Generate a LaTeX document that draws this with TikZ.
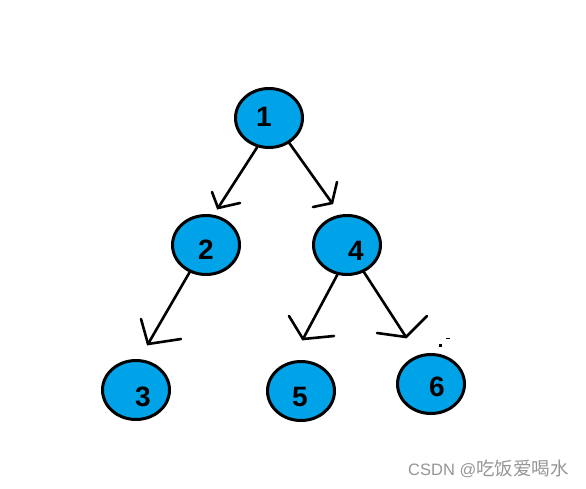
\documentclass[tikz,border=0pt]{standalone}
\usepackage{fontspec}
\setmainfont{Liberation Sans}
\newfontfamily\cjkfont{Noto Sans CJK SC}
\usetikzlibrary{shapes.geometric}
\definecolor{nodeblue}{RGB}{0,162,232}
\definecolor{wmgray}{RGB}{150,150,150}
\tikzset{
  treenode/.style={ellipse, draw=black, line width=3pt, fill=nodeblue,
    minimum width=67pt, minimum height=59pt, inner sep=0pt},
  numlabel/.style={font=\fontsize{28}{28}\selectfont\bfseries, text=black},
  shaft/.style={draw=black, line width=2.6pt, line cap=round},
}
\begin{document}
\begin{tikzpicture}[x=1pt,y=-1pt]
\useasboundingbox (0,0) rectangle (586,489);
\fill[white] (0,0) rectangle (586,489);

% nodes
\node[treenode, label={[numlabel, shift={(-5pt,1pt)}]center:1}] (n1) at (269,118) {};
\node[treenode, label={[numlabel, shift={(0pt,-5pt)}]center:2}] (n2) at (206,245) {};
\node[treenode, label={[numlabel, shift={(9pt,-6pt)}]center:4}] (n4) at (347,245) {};
\node[treenode, label={[numlabel, shift={(7pt,-7pt)}]center:3}] (n3) at (136,390) {};
\node[treenode, label={[numlabel, shift={(-1pt,-6pt)}]center:5}] (n5) at (301,391) {};
\node[treenode, label={[numlabel, shift={(6pt,-3pt)}]center:6}] (n6) at (431,384) {};

% arrow tips (hand drawn, free ends)
\coordinate (t12) at (218,208);
\coordinate (t14) at (332,203);
\coordinate (t23) at (148,344);
\coordinate (t45) at (303,339);
\coordinate (t46) at (406,337);

% shafts
\draw[shaft] (n1.-112) -- (t12);
\draw[shaft] (n1.-51) -- (t14);
\draw[shaft] (n2.-121) -- (t23);
\draw[shaft] (n4.-108) -- (t45);
\draw[shaft] (n4.-58) -- (t46);

% hand-drawn heads
\draw[shaft] (212,192) -- (t12) -- (240,203);
\draw[shaft] (337,182) -- (t14) -- (313,207);
\draw[shaft] (141,319) -- (t23) -- (181,339);
\draw[shaft] (289,316) -- (t45) -- (334,336);
\draw[shaft] (377,333) -- (t46) -- (427,316);

% stray marks
\fill[black] (439,344) rectangle (441.5,346.5);
\fill[black] (446,337.5) rectangle (449.5,339);

% watermark
\node[anchor=east, text=wmgray, inner sep=0pt]
  (wm) at (569,469) {\fontsize{16.5}{17}\selectfont CSDN @{\cjkfont\fontsize{18.5}{19}\selectfont 吃饭爱喝水}};
\end{tikzpicture}
\end{document}
